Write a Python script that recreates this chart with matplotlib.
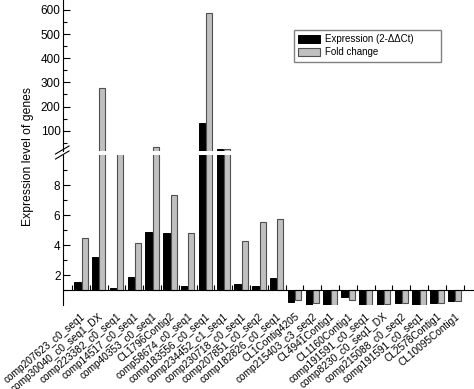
import numpy as np
import matplotlib
matplotlib.use('Agg')
import matplotlib.pyplot as plt
from matplotlib.lines import Line2D

plt.rcParams['font.family'] = ['Liberation Sans', 'DejaVu Sans']

genes = ['comp207623_c0_seq1', 'comp30040_c0_seq1_DX', 'comp223382_c0_seq1',
         'comp14517_c0_seq1', 'comp40353_c0_seq1', 'CL1796Contig2',
         'comp58674_c0_seq1', 'comp183556_c0_seq1', 'comp234452_c1_seq1',
         'comp230718_c0_seq1', 'comp207851_c0_seq2', 'comp182826_c0_seq1',
         'CL1Contig4205', 'comp215403_c3_seq2', 'CL4941Contig1', 'CL1160Contig1',
         'comp191591_c0_seq1', 'comp8230_c0_seq1_DX', 'comp215088_c0_seq2',
         'comp191591_c0_seq1', 'CL2578Contig1', 'CL10095Contig1']
expression = [1.51, 3.18, 1.11, 1.89, 4.89, 4.82, 1.27, 130, 24, 1.38, 1.27, 1.82,
              0.22, 0.02, 0.02, 0.55, 0.02, 0.02, 0.12, 0.02, 0.15, 0.28]
fold_change = [4.49, 275, 13, 4.11, 31, 7.33, 4.78, 589, 26, 4.27, 5.56, 5.71,
               0.33, 0.12, 0.02, 0.33, 0.03, 0.08, 0.12, 0.02, 0.12, 0.28]

base = 1.0
x = np.arange(len(genes))
expr_h = np.array(expression) - base
fold_h = np.array(fold_change) - base

W, H = 474, 389
fig = plt.figure(figsize=(W / 100, H / 100), dpi=100)
ax_up = fig.add_axes([63 / W, 1 - 151 / H, (W - 63) / W, 151 / H])
ax_lo = fig.add_axes([63 / W, 1 - 305 / H, (W - 63) / W, 150 / H])

for ax in (ax_up, ax_lo):
    b1 = ax.bar(x - 0.2, expr_h, 0.36, bottom=base, color='black',
                edgecolor='black', linewidth=0.7)
    b2 = ax.bar(x + 0.2, fold_h, 0.34, bottom=base, color='#c0c0c0',
                edgecolor='#505050', linewidth=0.8)
    ax.set_xlim(-1.01, 22.08)
    for s in ('top', 'right', 'bottom'):
        ax.spines[s].set_visible(False)
    ax.spines['left'].set_linewidth(0.8)
    ax.tick_params(axis='y', which='major', direction='in', length=4.8,
                   width=0.8, labelsize=8.5, pad=1.8)
    ax.tick_params(axis='y', which='minor', direction='in', length=3,
                   width=0.8)

ax_up.set_ylim(16, 641)
ax_up.set_yticks(np.arange(100, 601, 100))
ax_up.set_yticks(np.arange(50, 641, 50), minor=True)
ax_up.set_xticks([])

ax_lo.set_ylim(0, 10)
ax_lo.set_yticks([2, 4, 6, 8])
ax_lo.set_yticks([1, 3, 5, 7, 9], minor=True)
ax_lo.set_xticks(x)
ax_lo.set_xticklabels(genes, rotation=40, ha='right', va='top',
                      rotation_mode='anchor', fontsize=7.3)
ax_lo.tick_params(axis='x', length=0, pad=4.5)

# baseline at 1 with category separators
ax_lo.axhline(base, color='black', lw=0.8)
edges = np.arange(len(genes) + 1) - 0.5
ax_lo.vlines(edges, base, base + 0.33, color='black', lw=0.8)

# axis break marks
for dy in (0, 5):
    fig.add_artist(Line2D([55.5 / W, 69 / W],
                          [1 - (154 + dy) / H, 1 - (146 + dy) / H],
                          transform=fig.transFigure, color='black', lw=0.8))

fig.text(28 / W, 1 - 157 / H, 'Expression level of genes', rotation=90,
         ha='center', va='center', fontsize=8.7)

ax_up.legend([b1, b2], ['Expression (2-ΔΔCt)', 'Fold change'],
             loc='upper left', mode='expand',
             bbox_to_anchor=(294 / W, 1 - 60 / H, 147 / W, 30 / H),
             bbox_transform=fig.transFigure, fontsize=7, fancybox=False,
             edgecolor='#808080', framealpha=1, handlelength=2.24,
             handleheight=0.93, borderpad=0.45, labelspacing=0.3,
             handletextpad=0.45, borderaxespad=0)

fig.savefig('out.png', dpi=100)
